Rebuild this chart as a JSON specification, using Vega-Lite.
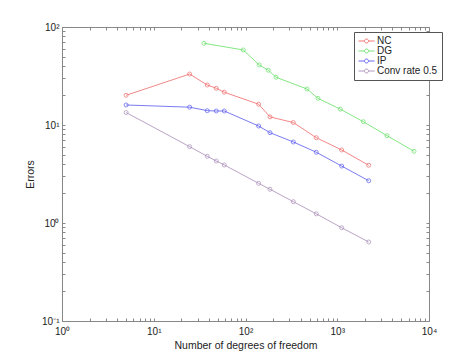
{
  "$schema": "https://vega.github.io/schema/vega-lite/v6.json",
  "width": 367,
  "height": 294,
  "autosize": "none",
  "padding": {"left": 62, "top": 27, "right": 45, "bottom": 40},
  "background": "white",
  "config": {
    "font": "Liberation Sans",
    "view": {"stroke": "#888", "strokeWidth": 1},
    "axis": {"grid": false, "domainColor": "#888", "tickColor": "#888", "labelColor": "#222", "titleColor": "#222", "labelFont": "Liberation Sans", "titleFont": "Liberation Sans", "labelFontSize": 10, "titleFontSize": 10.5, "titleFontWeight": "normal"}
  },
  "data": {
    "values": [
      {"series": "NC", "dof": 5, "err": 20.1},
      {"series": "NC", "dof": 24.6, "err": 33.1},
      {"series": "NC", "dof": 38.3, "err": 25.6},
      {"series": "NC", "dof": 48, "err": 23.7},
      {"series": "NC", "dof": 58.7, "err": 21.6},
      {"series": "NC", "dof": 139, "err": 16.3},
      {"series": "NC", "dof": 185, "err": 12.1},
      {"series": "NC", "dof": 332, "err": 10.6},
      {"series": "NC", "dof": 591, "err": 7.42},
      {"series": "NC", "dof": 1118, "err": 5.56},
      {"series": "NC", "dof": 2202, "err": 3.88},
      {"series": "DG", "dof": 35.3, "err": 68.2},
      {"series": "DG", "dof": 94.6, "err": 58.3},
      {"series": "DG", "dof": 141, "err": 41},
      {"series": "DG", "dof": 177, "err": 36.2},
      {"series": "DG", "dof": 215, "err": 30.7},
      {"series": "DG", "dof": 468, "err": 23.3},
      {"series": "DG", "dof": 617, "err": 18.7},
      {"series": "DG", "dof": 1080, "err": 14.5},
      {"series": "DG", "dof": 1923, "err": 10.8},
      {"series": "DG", "dof": 3484, "err": 7.78},
      {"series": "DG", "dof": 6863, "err": 5.39},
      {"series": "IP", "dof": 5, "err": 16.0},
      {"series": "IP", "dof": 24.6, "err": 15.2},
      {"series": "IP", "dof": 38.3, "err": 14.0},
      {"series": "IP", "dof": 48, "err": 13.9},
      {"series": "IP", "dof": 58.7, "err": 13.9},
      {"series": "IP", "dof": 139, "err": 9.77},
      {"series": "IP", "dof": 185, "err": 8.35},
      {"series": "IP", "dof": 332, "err": 6.71},
      {"series": "IP", "dof": 591, "err": 5.27},
      {"series": "IP", "dof": 1118, "err": 3.81},
      {"series": "IP", "dof": 2202, "err": 2.70},
      {"series": "Conv rate 0.5", "dof": 5, "err": 13.4},
      {"series": "Conv rate 0.5", "dof": 24.6, "err": 6.01},
      {"series": "Conv rate 0.5", "dof": 38.3, "err": 4.79},
      {"series": "Conv rate 0.5", "dof": 48, "err": 4.29},
      {"series": "Conv rate 0.5", "dof": 58.7, "err": 3.91},
      {"series": "Conv rate 0.5", "dof": 139, "err": 2.54},
      {"series": "Conv rate 0.5", "dof": 185, "err": 2.21},
      {"series": "Conv rate 0.5", "dof": 332, "err": 1.65},
      {"series": "Conv rate 0.5", "dof": 591, "err": 1.24},
      {"series": "Conv rate 0.5", "dof": 1118, "err": 0.895},
      {"series": "Conv rate 0.5", "dof": 2202, "err": 0.64}
    ]
  },
  "layer": [
    {
      "mark": {"type": "line", "strokeWidth": 0.8, "clip": true},
      "encoding": {
        "x": {"field": "dof", "type": "quantitative", "scale": {"type": "log", "domain": [1, 10000], "nice": false},
          "axis": {"orient": "bottom", "title": "Number of degrees of freedom", "titlePadding": 4,
            "values": [1,2,3,4,5,6,7,8,9,10,20,30,40,50,60,70,80,90,100,200,300,400,500,600,700,800,900,1000,2000,3000,4000,5000,6000,7000,8000,9000,10000],
            "labelExpr": "datum.value == 1 ? '10⁰' : datum.value == 10 ? '10¹' : datum.value == 100 ? '10²' : datum.value == 1000 ? '10³' : datum.value == 10000 ? '10⁴' : ''",
            "tickSize": -3, "labelPadding": 8, "labelFlush": false, "labelOverlap": false}},
        "y": {"field": "err", "type": "quantitative", "scale": {"type": "log", "domain": [0.1, 100], "nice": false},
          "axis": {"orient": "left", "title": "Errors", "titlePadding": 6,
            "values": [0.1,0.2,0.3,0.4,0.5,0.6,0.7,0.8,0.9,1,2,3,4,5,6,7,8,9,10,20,30,40,50,60,70,80,90,100],
            "labelExpr": "datum.value == 0.1 ? '10⁻¹' : datum.value == 1 ? '10⁰' : datum.value == 10 ? '10¹' : datum.value == 100 ? '10²' : ''",
            "tickSize": -3, "labelPadding": 6, "labelOverlap": false, "labelFlush": false}},
        "color": {"field": "series", "type": "nominal",
          "scale": {"domain": ["NC", "DG", "IP", "Conv rate 0.5"], "range": ["#f06868", "#66e066", "#5858f0", "#a88cb8"]},
          "legend": {"title": null, "orient": "none", "legendX": 292, "legendY": 5,
            "symbolType": "M-1,0L-0.28,0M0.28,0L1,0M0.25,0A0.25,0.25,0,1,0,-0.25,0A0.25,0.25,0,1,0,0.25,0",
            "symbolSize": 256, "symbolStrokeWidth": 0.9, "symbolFillColor": "transparent",
            "clipHeight": 10, "rowPadding": 0, "labelFontSize": 10, "labelColor": "#222", "labelOffset": 2,
            "strokeColor": "#555", "fillColor": "white", "padding": 4}}
      }
    },
    {
      "mark": {"type": "point", "shape": "circle", "filled": false, "size": 16, "strokeWidth": 1, "clip": true},
      "encoding": {
        "x": {"field": "dof", "type": "quantitative", "scale": {"type": "log", "domain": [1, 10000], "nice": false},
          "axis": {"orient": "top", "title": null, "labels": false, "domain": false,
            "values": [1,2,3,4,5,6,7,8,9,10,20,30,40,50,60,70,80,90,100,200,300,400,500,600,700,800,900,1000,2000,3000,4000,5000,6000,7000,8000,9000,10000],
            "tickSize": -3}},
        "y": {"field": "err", "type": "quantitative", "scale": {"type": "log", "domain": [0.1, 100], "nice": false},
          "axis": {"orient": "right", "title": null, "labels": false, "domain": false,
            "values": [0.1,0.2,0.3,0.4,0.5,0.6,0.7,0.8,0.9,1,2,3,4,5,6,7,8,9,10,20,30,40,50,60,70,80,90,100],
            "tickSize": -3}},
        "color": {"field": "series", "type": "nominal", "legend": null}
      }
    }
  ],
  "resolve": {"axis": {"x": "independent", "y": "independent"}}
}
